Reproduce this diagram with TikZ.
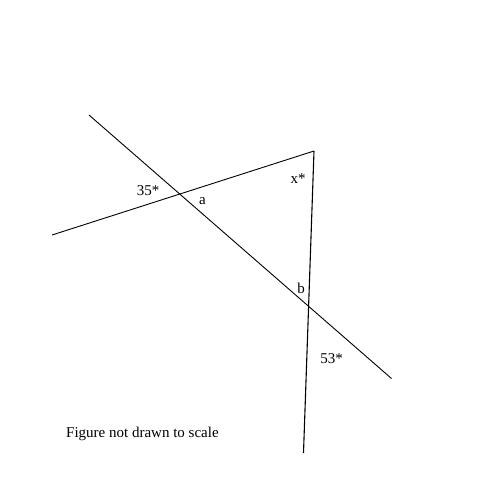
\documentclass[tikz,border=0pt]{standalone}
\usepackage{fontspec}
\setmainfont{Liberation Serif}
\usetikzlibrary{positioning}
\usetikzlibrary{calc}

\begin{document}
\begin{tikzpicture}[x=1pt,y=-1pt,
	lbl/.style={inner sep=0pt,font=\fontsize{15}{17}\selectfont}]
				\useasboundingbox (0,0) rectangle (482,491);
				\coordinate (L1) at (52,235);
				\coordinate (T) at (314,151);
				\coordinate (L2) at (89,115);
				\coordinate (R2) at (391.5,378.5);
				\coordinate (B) at (303.5,453);
				\draw[line width=0.9pt,-] (L1) -- (T);
				\draw[line width=0.9pt,-] (L2) -- (R2);
				\draw[line width=1.1pt,-] (T) -- (B);
				\node[lbl] (ang35) at (148,191) {35*};
				\node[lbl] (anga) at (202.5,201) {a};
				\node[lbl] (angx) at (298,179) {x*};
				\node[lbl] (angb) at (301,288) {b};
				\node[lbl] (ang53) at (331.5,359) {53*};
				\node[lbl,anchor=west] (note) at (66,434) {Figure not drawn to scale};
			\end{tikzpicture}
\end{document}
